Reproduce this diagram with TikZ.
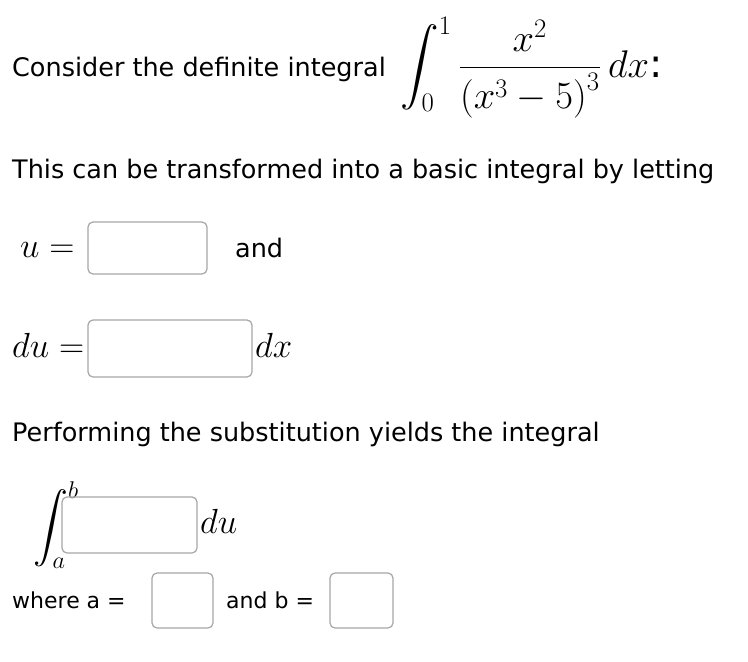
\documentclass[tikz,border=0pt]{standalone}
\usepackage{amsmath}
\usepackage{graphicx}
\usepackage{fontspec}
\setmainfont{DejaVu Sans}
\begin{document}
\begin{tikzpicture}[x=1pt,y=-1pt,
  txt/.style={anchor=base west,inner sep=0pt,font=\fontsize{25.5}{30}\selectfont},
  ansbox/.style={draw=gray!70,line width=1.2pt,rounded corners=5pt,inner sep=0pt}]
\useasboundingbox (0,0) rectangle (748,662);
\node[txt] (l1) at (12,76) {Consider the definite integral};
\node[txt,anchor=west] (int1) at (400,68) {\scalebox{1.55}{$\displaystyle\int_0^1 \frac{x^2}{\left(x^3-5\right)^3}\,dx$:}};
\node[txt] (l2) at (12,178) {This can be transformed into a basic integral by letting};
\node[txt] (u) at (20,257) {\scalebox{1.4}{$u=$}};
\draw[ansbox] (88,222) rectangle (207,274);
\node[txt] (and1) at (235,257) {and};
\node[txt] (du) at (12,357) {\scalebox{1.4}{$du=$}};
\draw[ansbox] (88,320) rectangle (252,377);
\node[txt] (dx) at (255,357) {\scalebox{1.4}{$dx$}};
\node[txt] (l3) at (12,441) {Performing the substitution yields the integral};
\node[txt,anchor=west] (int2) at (33,525) {\scalebox{1.4}{$\displaystyle\int_a^b$}};
\draw[ansbox] (62,497) rectangle (197,553);
\node[txt] (du2) at (200,533) {\scalebox{1.4}{$du$}};
\node[txt] (wa) at (12,608) {\fontsize{22}{26}\selectfont where a =};
\draw[ansbox] (152,573) rectangle (213,628);
\node[txt] (ab) at (226,608) {\fontsize{22}{26}\selectfont and b =};
\draw[ansbox] (330,573) rectangle (393,628);
\end{tikzpicture}
\end{document}
